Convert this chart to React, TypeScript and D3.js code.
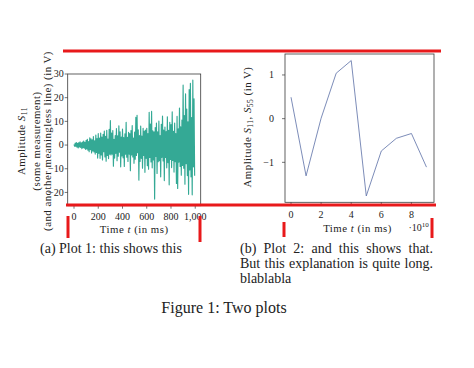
import React, { useEffect, useRef } from "react";
import * as d3 from "d3";

// ---------- data ----------
const sig1Step = 5;
const sig1Values: number[] = [
  0.3,-0.5,0.8,-0.6,1.0,-0.9,0.7,-1.2,1.1,-0.8,1.4,-1.0,0.9,-1.5,1.3,-1.1,1.7,-1.3,1.2,-1.8,
  2.0,-1.6,2.4,-2.2,1.5,-2.8,3.1,-1.9,2.6,-3.3,2.2,-2.5,3.6,-2.9,1.8,-3.8,4.2,-3.1,2.7,-5.5,
  4.8,-3.5,2.9,-5.6,5.1,-4.2,3.4,-6.3,4.5,-2.8,5.9,-5.0,3.7,-6.8,6.2,-4.4,2.5,-5.7,6.6,-3.9,
  10.3,-4.2,5.1,-3.8,6.1,-8.9,2.4,-5.5,4.0,-3.5,7.0,-6.6,3.9,-4.7,8.1,-3.0,5.6,-9.2,3.4,-4.6,
  6.8,-5.4,3.2,-9.0,4.7,-3.9,9.6,-5.1,3.3,-6.9,5.4,-3.8,4.9,-10.8,6.1,-4.2,8.2,-5.0,3.0,-7.7,
  5.5,-6.0,11.7,-4.4,12.6,-3.2,6.4,-14.8,4.0,-6.9,8.0,-5.6,3.8,-9.8,7.1,-4.4,5.9,-11.5,6.3,-5.6,
  7.1,-8.7,4.9,-10.2,13.8,-5.2,8.9,-7.1,14.2,-9.6,6.0,-6.3,5.6,-22.8,7.4,-4.8,9.3,-12.0,5.6,-7.0,
  10.1,-6.6,4.0,-13.4,8.8,-5.2,12.2,-6.7,6.3,-15.0,7.6,-5.2,5.7,-9.6,11.9,-7.4,6.2,-16.8,9.6,-6.1,
  8.7,-9.5,14.0,-6.5,5.8,-11.4,9.3,-7.0,4.9,-16.2,12.1,-18.3,6.9,-7.2,15.6,-9.0,7.7,-12.7,10.5,-8.6,
  25.3,-9.8,12.4,-16.5,21.6,-7.9,15.2,-12.9,9.8,-20.8,23.4,-10.5,26.1,-13.4,11.6,-21.0,27.4,-9.2,19.5,-13.0,
];
const plot1XTicks = [0, 200, 400, 600, 800, 1000];
const plot1XTickLabels = ["0", "200", "400", "600", "800", "1,000"];
const plot1YTicks = [30, 20, 10, 0, -10, -20];

// Plot 2
const plot2X = [0, 1, 2, 3, 4, 5, 6, 7, 8, 9];
const plot2Y = [0.49, -1.31, 0.01, 1.04, 1.33, -1.77, -0.74, -0.45, -0.34, -1.11];
const plot2XTicks = [0, 2, 4, 6, 8];
const plot2YTicks = [1, 0, -1];

const FONT = "'Liberation Serif', 'DejaVu Serif', serif";
const FRAME = "#3a3a3a";
const RED = "#e8191b";
const TICK_FS = 10;
const LABEL_FS = 10.8;
const LABEL_LS = 0.5;

function Justified({ x, y, width, text, fontSize }: { x: number; y: number; width: number; text: string; fontSize: number }) {
  const ref = useRef<SVGTextElement>(null);
  useEffect(() => {
    const el = ref.current;
    if (!el) return;
    el.setAttribute("word-spacing", "0");
    const natural = el.getComputedTextLength();
    const spaces = (text.match(/ /g) || []).length;
    if (spaces > 0) el.setAttribute("word-spacing", String((width - natural) / spaces));
  }, [text, width]);
  return (
    <text ref={ref} x={x} y={y} fontSize={fontSize} style={{ whiteSpace: "pre" }}>
      {text}
    </text>
  );
}

export default function App() {
  // ---- Plot 1 scales ----
  const x1 = d3.scaleLinear().domain([-52, 1045]).range([67.7, 200.7]);
  const y1 = d3.scaleLinear().domain([-25.6, 30]).range([205.7, 74]);
  const sig = sig1Values.map((v, i) => [i * sig1Step, v] as [number, number]);
  const line1 = d3
    .line<[number, number]>()
    .x((d) => x1(d[0]))
    .y((d) => y1(d[1]))(sig) as string;

  // ---- Plot 2 scales ----
  const x2 = d3.scaleLinear().domain([-0.4, 9.5]).range([285, 434]);
  const y2 = d3.scaleLinear().domain([-1.915, 1.48]).range([202.3, 54]);
  const line2 = d3
    .line<number>()
    .x((_, i) => x2(plot2X[i]))
    .y((d) => y2(d))(plot2Y) as string;

  const [x1a, x1b] = x1.range();
  const [y1b, y1a] = y1.range();
  const [x2a, x2b] = x2.range();
  const [y2b, y2a] = y2.range();

  const minus = (v: number) => (v < 0 ? "\u2212" + Math.abs(v) : String(v));

  return (
    <svg
      width={474}
      height={368}
      style={{ position: "absolute", left: 0, top: 0, background: "#fff" }}
      fontFamily={FONT}
    >
      <rect x={0} y={0} width={474} height={368} fill="#fff" />

      {/* ===== Plot 1 ===== */}
      <defs>
        <clipPath id="c1">
          <rect x={x1a} y={y1a} width={x1b - x1a} height={y1b - y1a} />
        </clipPath>
      </defs>
      <g clipPath="url(#c1)">
        <path d={line1} fill="none" stroke="#119a82" strokeWidth={1.15} strokeOpacity={0.85} strokeLinejoin="round" />
      </g>
      <rect x={x1a} y={y1a} width={x1b - x1a} height={y1b - y1a} fill="none" stroke={FRAME} strokeWidth={0.8} />
      {plot1YTicks.map((t) => (
        <g key={"y1" + t}>
          <line x1={x1a - 3} x2={x1a} y1={y1(t)} y2={y1(t)} stroke={FRAME} strokeWidth={0.7} />
          <text x={x1a - 4} y={y1(t) + 3.4} fontSize={TICK_FS} textAnchor="end" fill="#222">
            {minus(t)}
          </text>
        </g>
      ))}
      {plot1XTicks.map((t, i) => (
        <g key={"x1" + t}>
          <line x1={x1(t)} x2={x1(t)} y1={y1b} y2={y1b + 3} stroke={FRAME} strokeWidth={0.7} />
          <text x={x1(t)} y={220.3} fontSize={TICK_FS} textAnchor="middle" fill="#222">
            {plot1XTickLabels[i]}
          </text>
        </g>
      ))}
      <text x={(x1a + x1b) / 2} y={232.5} fontSize={LABEL_FS} letterSpacing={LABEL_LS} textAnchor="middle" fill="#222">
        Time <tspan fontStyle="italic">t</tspan> (in ms)
      </text>
      <g transform={`translate(0,141) rotate(-90)`} fill="#222" fontSize={LABEL_FS} letterSpacing={LABEL_LS} textAnchor="middle">
        <text x={0} y={25}>
          Amplitude <tspan fontStyle="italic">S</tspan>
          <tspan fontSize={7.5} dy={2}>11</tspan>
        </text>
        <text x={0} y={39.5}>(some measurement)</text>
        <text x={0} y={51}>(and another meaningless line) (in V)</text>
      </g>

      {/* ===== Plot 2 ===== */}
      <path d={line2} fill="none" stroke="#5b6fa6" strokeWidth={0.8} />
      <rect x={x2a} y={y2a} width={x2b - x2a} height={y2b - y2a} fill="none" stroke={FRAME} strokeWidth={0.8} />
      {plot2YTicks.map((t) => (
        <g key={"y2" + t}>
          <line x1={x2a - 3} x2={x2a} y1={y2(t)} y2={y2(t)} stroke={FRAME} strokeWidth={0.7} />
          <text x={274} y={y2(t) + 3.4} fontSize={TICK_FS} textAnchor="end" fill="#222">
            {minus(t)}
          </text>
        </g>
      ))}
      {plot2XTicks.map((t) => (
        <g key={"x2" + t}>
          <line x1={x2(t)} x2={x2(t)} y1={y2b} y2={y2b + 3} stroke={FRAME} strokeWidth={0.7} />
          <text x={x2(t)} y={218} fontSize={TICK_FS} textAnchor="middle" fill="#222">
            {t}
          </text>
        </g>
      ))}
      <text x={(x2a + x2b) / 2 - 2} y={232} fontSize={LABEL_FS} letterSpacing={LABEL_LS} textAnchor="middle" fill="#222">
        Time <tspan fontStyle="italic">t</tspan> (in ms)
      </text>
      <text x={408.5} y={231} fontSize={TICK_FS} fill="#222">
        ·10<tspan fontSize={7} dy={-4}>10</tspan>
      </text>
      <g transform={`translate(251,127) rotate(-90)`} fill="#222" fontSize={LABEL_FS} letterSpacing={LABEL_LS} textAnchor="middle">
        <text x={0} y={0}>
          Amplitude <tspan fontStyle="italic">S</tspan>
          <tspan fontSize={7.5} dy={2}>11</tspan>
          <tspan dy={-2}>, </tspan>
          <tspan fontStyle="italic">S</tspan>
          <tspan fontSize={7.5} dy={2}>55</tspan>
          <tspan dy={-2}> (in V)</tspan>
        </text>
      </g>

      {/* ===== Red boundary lines ===== */}
      <line x1={63} x2={441} y1={51} y2={51} stroke={RED} strokeWidth={3} />
      <line x1={66} x2={436} y1={205} y2={205} stroke={RED} strokeWidth={3} />
      <line x1={68} x2={68} y1={216} y2={238} stroke={RED} strokeWidth={3} />
      <line x1={200} x2={200} y1={216} y2={242} stroke={RED} strokeWidth={3} />
      <line x1={284} x2={284} y1={222} y2={237} stroke={RED} strokeWidth={3} />
      <line x1={432} x2={432} y1={218} y2={238} stroke={RED} strokeWidth={3} />

      {/* ===== Captions ===== */}
      <g fill="#222">
        <text x={40} y={252.5} fontSize={14}>(a) Plot 1: this shows this</text>
        <Justified x={240} y={252.5} width={193} fontSize={14} text="(b) Plot 2: and this shows that." />
        <Justified x={240} y={267.5} width={193} fontSize={14} text="But this explanation is quite long." />
        <text x={240} y={282.5} fontSize={14}>blablabla</text>
        <text x={224} y={313} fontSize={16} textAnchor="middle">Figure 1: Two plots</text>
      </g>
    </svg>
  );
}
